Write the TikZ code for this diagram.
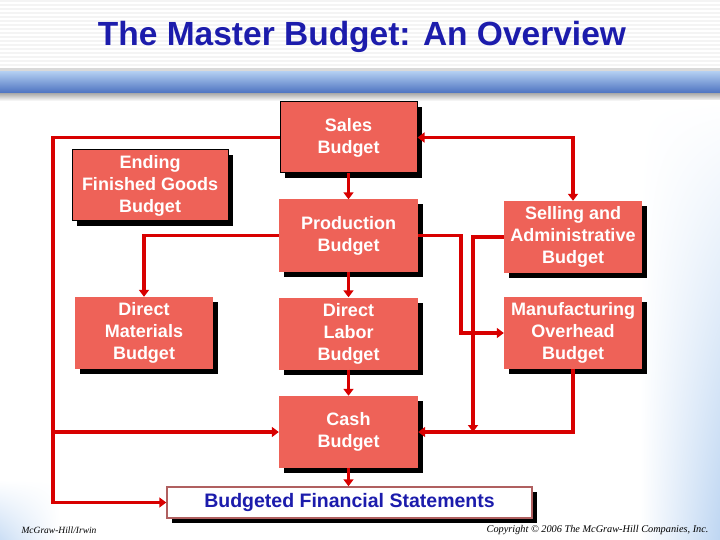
\documentclass[tikz,border=0pt]{standalone}
\usepackage{fontspec}
\setmainfont{Liberation Sans}
\newfontfamily\footfont{Liberation Serif}
\usetikzlibrary{arrows.meta,shadows,shadings}
\definecolor{boxred}{RGB}{238,98,88}
\definecolor{linered}{RGB}{216,0,0}
\definecolor{titleblue}{RGB}{28,28,172}
\definecolor{barlight}{RGB}{176,204,240}
\definecolor{barmid}{RGB}{120,158,222}
\definecolor{bardark}{RGB}{72,110,190}
\definecolor{edgeblue}{RGB}{190,214,242}
\definecolor{bfsedge}{RGB}{176,96,96}

\begin{document}
\begin{tikzpicture}[x=1pt,y=-1pt,>={Triangle[width=10pt,length=7pt]},
  budget/.style={rectangle, fill=boxred, text=white, font=\fontsize{18}{22}\selectfont\bfseries,
    align=center, inner sep=0pt, minimum width=139pt, minimum height=72pt,
    drop shadow={fill=black, opacity=1, shadow xshift=5pt, shadow yshift=-5pt}},
  framed/.style={draw=black, line width=1pt},
  flow/.style={draw=linered, line width=3.5pt, ->}]
  \useasboundingbox (0,0) rectangle (720,540);
  % slide background
  \fill[white] (0,0) rectangle (720,540);
  \foreach \y in {0,4,...,64}
    \fill[gray!9] (0,\y) rectangle (720,\y+2);
  \fill[gray!30] (0,68) rectangle (720,71);
  \shade[top color=barlight, middle color=barmid, bottom color=bardark] (0,72) rectangle (720,94);
  \shade[top color=gray!60, bottom color=white] (0,94) rectangle (720,101);
  \shade[upper left=white, lower left=white, upper right=white, lower right=edgeblue] (640,101) rectangle (720,540);
  \shade[upper left=white, lower left=edgeblue!80!white, upper right=white, lower right=white] (0,480) rectangle (60,540);

  \node[text=titleblue, font=\fontsize{33.5}{40}\selectfont\bfseries] (title) at (362,37) {The Master Budget: An Overview};

  % budgets
  \node[budget, framed, minimum width=137pt, minimum height=71pt] (sales) at (348.5,137.5) {Sales\\Budget};
  \node[budget] (prod) at (348.5,235.5) {Production\\Budget};
  \node[budget, framed, minimum width=156pt, minimum height=71pt] (efg) at (150,185.5) {Ending\\Finished Goods\\Budget};
  \node[budget, minimum width=138pt] (sa) at (573,237) {Selling and\\Administrative\\Budget};
  \node[budget, minimum width=138pt] (dm) at (144,333) {Direct\\Materials\\Budget};
  \node[budget] (dl) at (348.5,333.5) {Direct\\Labor\\Budget};
  \node[budget, minimum width=138pt] (moh) at (573,333) {Manufacturing\\Overhead\\Budget};
  \node[budget] (cash) at (348.5,432) {Cash\\Budget};
  \node[budget, fill=white, draw=bfsedge, line width=1.5pt, text=titleblue, font=\fontsize{19.5}{24}\selectfont\bfseries,
    minimum width=365pt, minimum height=31pt] (bfs) at (349.5,502.5) {Budgeted Financial Statements};

  % flows
  \coordinate (lefttop) at (53,137.5);
  \coordinate (leftbot) at (53,502.5);
  \coordinate (sajoin) at (473,432);
  \draw[flow] (sales.west) -- (lefttop) -- (leftbot) -- (bfs.west);
  \draw[flow] (cash.west -| lefttop) -- (cash.west);
  \draw[flow, <->] (sales.east) -| (sa.north);
  \draw[flow] (sales) -- (prod);
  \draw[flow] (prod) -- (dl);
  \draw[flow] (dl) -- (cash);
  \draw[flow] (cash.south) -- (cash.south |- bfs.north);
  \draw[flow] (prod.west) -| (dm.north);
  \draw[flow] (prod.east) -- ++(43,0) |- (moh.west);
  \draw[flow] (sa.west) -| (sajoin);
  \draw[flow] (moh.south) |- (cash.east);

  \node[font=\footfont\itshape\fontsize{9.5}{11}\selectfont, anchor=west] (maker) at (18,530) {McGraw-Hill/Irwin};
  \node[font=\footfont\itshape\fontsize{10.3}{12}\selectfont, anchor=east] (rights) at (712,530) {Copyright © 2006 The McGraw-Hill Companies, Inc.};
\end{tikzpicture}
\end{document}
